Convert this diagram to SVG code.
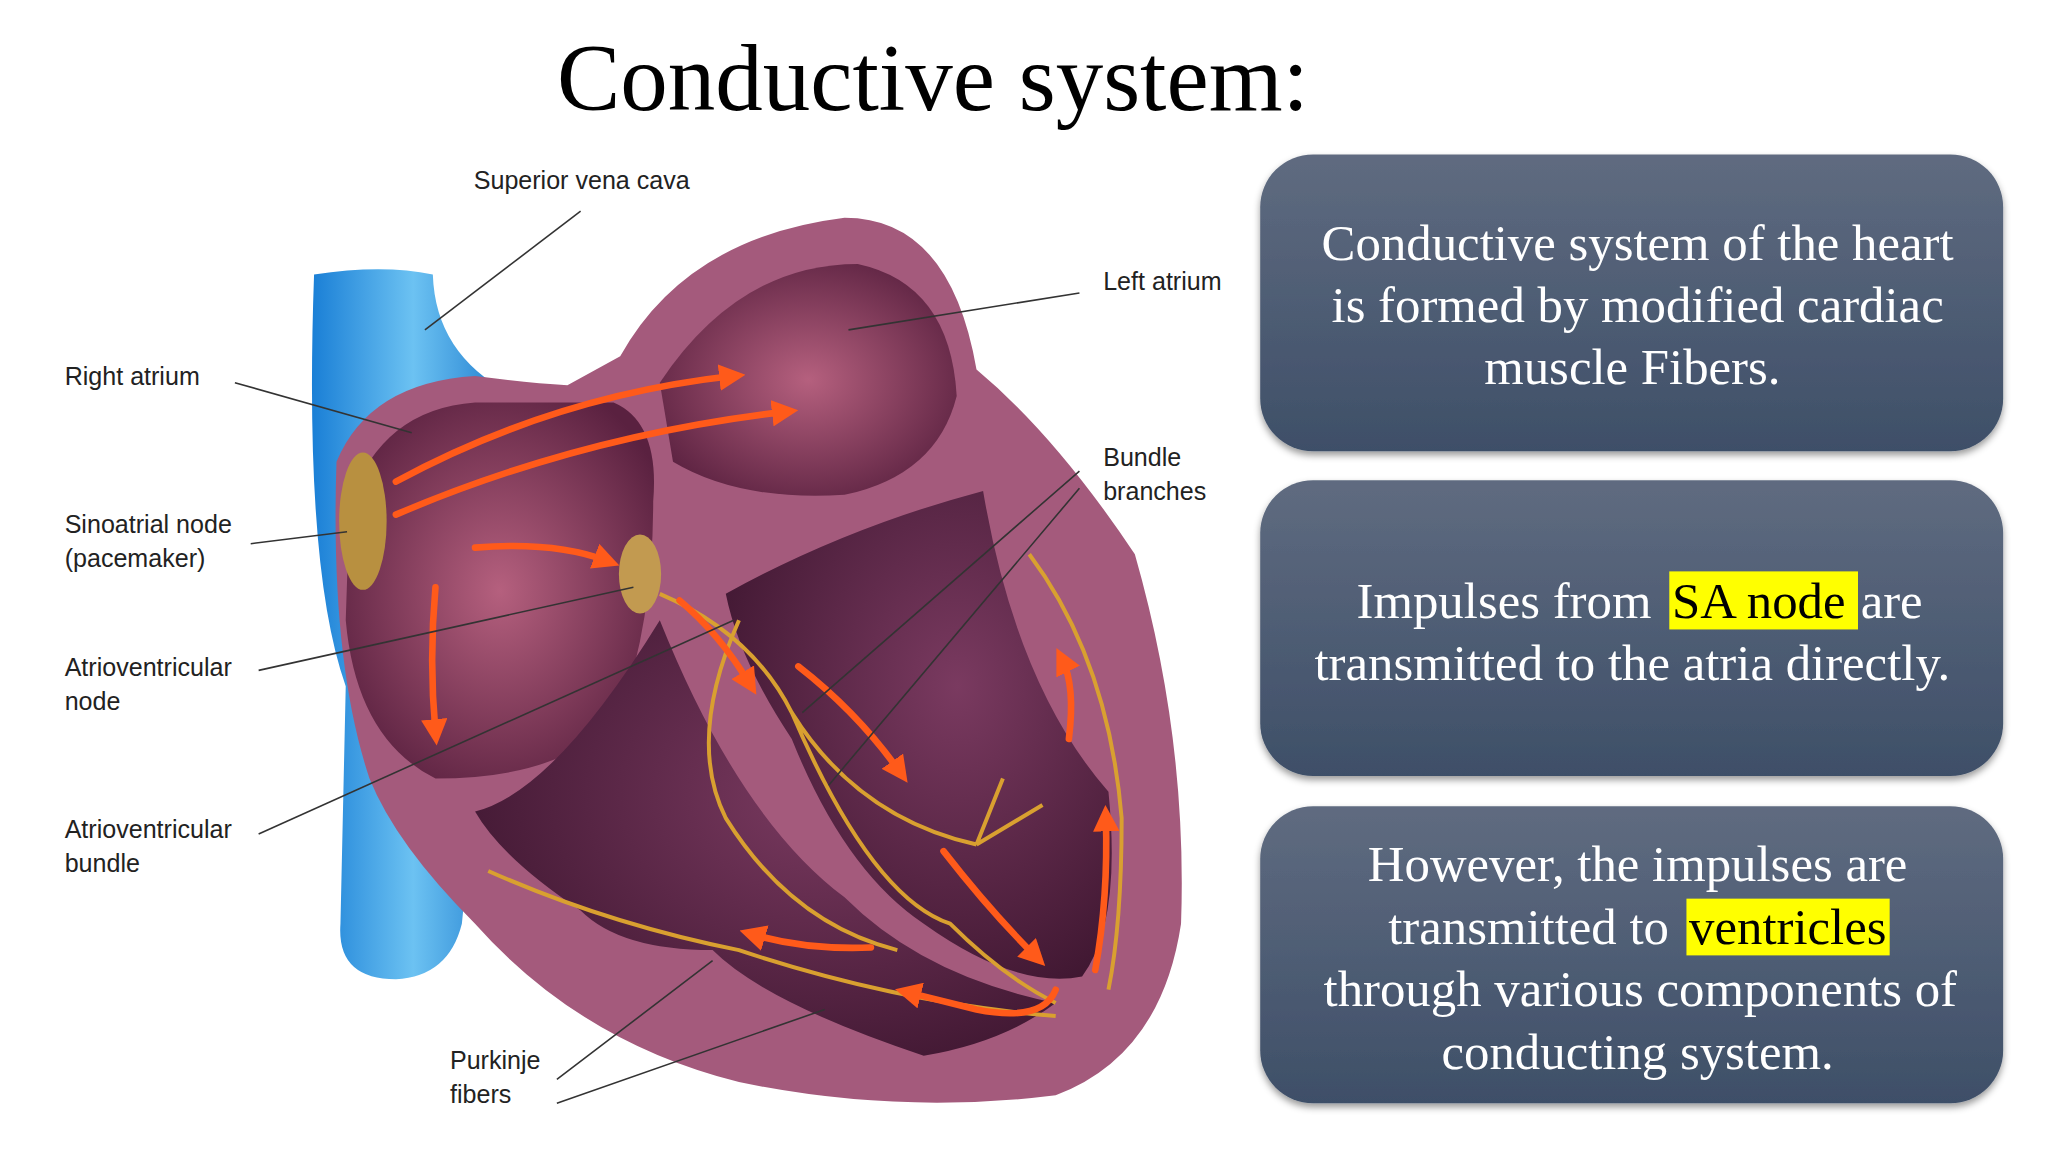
<svg xmlns="http://www.w3.org/2000/svg" width="2048" height="1152" viewBox="0 0 2048 1152">
<defs>
<linearGradient id="bg" x1="0" y1="0" x2="0" y2="1"><stop offset="0" stop-color="#5f6b80"/><stop offset="1" stop-color="#3e4f68"/></linearGradient>
<linearGradient id="vc" x1="0" y1="0" x2="1" y2="0"><stop offset="0" stop-color="#1a7fd6"/><stop offset="0.5" stop-color="#6cc2f2"/><stop offset="1" stop-color="#1a78cc"/></linearGradient>
<radialGradient id="ch" cx="0.5" cy="0.5" r="0.6"><stop offset="0" stop-color="#b5607e"/><stop offset="1" stop-color="#5a2140"/></radialGradient>
<radialGradient id="vt" cx="0.6" cy="0.4" r="0.7"><stop offset="0" stop-color="#7a3a60"/><stop offset="1" stop-color="#3e1630"/></radialGradient>
<filter id="sh" x="-5%" y="-5%" width="110%" height="115%"><feDropShadow dx="0" dy="3" stdDeviation="3" flood-color="#000" flood-opacity="0.4"/></filter>
<marker id="ah" viewBox="0 0 10 10" refX="5" refY="5" markerWidth="4" markerHeight="4" orient="auto"><path d="M0,0L10,5L0,10z" fill="#ff5a1a"/></marker>
</defs>
<style>
.t{font-family:"Liberation Serif",serif;fill:#fff;font-size:38.5px;text-anchor:middle}
.s{text-anchor:start}
.l{font-family:"Liberation Sans",Arial,sans-serif;font-size:19px;fill:#222}
.ld{stroke:#333;stroke-width:1.2;fill:none}
.ar{stroke:#ff5a1a;stroke-width:5;fill:none;stroke-linecap:round;marker-end:url(#ah)}
.fb{stroke:#d9a030;stroke-width:3;fill:none}
</style>
<rect width="2048" height="1152" fill="#fff"/>
<g transform="scale(1.3196)">
<text x="707" y="83" font-family="Liberation Serif,serif" font-size="72" text-anchor="middle" fill="#000">Conductive system:</text>
<g id="heart">
<path d="M238,208 Q290,200 328,208 Q330,270 390,300 L350,700 Q340,740 300,742 Q255,742 258,700 L262,520 Q230,430 238,208z" fill="url(#vc)"/>
<path d="M255,350 Q280,290 360,285 Q400,290 430,292 L470,270 Q520,180 640,165 Q720,165 740,280 Q800,330 860,420 Q900,560 895,700 Q880,800 800,830 Q680,845 560,820 Q440,790 360,700 Q300,640 280,590 Q250,500 255,350z" fill="#a45a7c"/>
<path d="M500,290 Q560,200 650,200 Q720,215 725,300 Q710,360 640,375 Q560,380 510,350z" fill="url(#ch)"/>
<path d="M265,380 Q290,310 360,305 L465,305 Q500,320 495,380 Q495,470 470,540 Q430,590 330,590 Q270,560 262,470z" fill="url(#ch)"/>
<path d="M550,450 Q640,400 745,372 Q770,520 840,600 Q850,700 820,740 Q770,750 700,700 Q640,660 600,560 Q560,500 550,450z" fill="url(#vt)"/>
<path d="M360,615 Q420,600 500,470 Q560,620 640,680 Q700,740 800,760 Q760,790 700,800 Q580,760 540,720 Q470,720 440,690 Q380,650 360,615z" fill="url(#vt)"/>
<ellipse cx="275" cy="395" rx="18" ry="52" fill="#b89040"/>
<ellipse cx="485" cy="435" rx="16" ry="30" fill="#c29a50"/>
<path class="fb" d="M500,450 Q570,480 600,540 Q650,620 740,640 M600,540 Q660,680 720,700 Q760,740 800,760 M560,470 Q520,560 550,620 Q600,700 680,720 M370,660 Q460,700 560,720 Q680,760 800,770 M780,420 Q840,500 850,620 Q850,700 840,750 M740,640 L760,590 M740,640 L790,610"/>
<path class="ar" d="M300,365 Q420,300 555,285"/>
<path class="ar" d="M300,390 Q440,330 595,312"/>
<path class="ar" d="M360,415 Q420,410 460,425"/>
<path class="ar" d="M330,445 Q325,500 330,555"/>
<path class="ar" d="M515,455 Q545,480 568,518"/>
<path class="ar" d="M605,505 Q650,540 682,585"/>
<path class="ar" d="M715,645 Q750,690 785,725"/>
<path class="ar" d="M810,560 Q815,520 805,500"/>
<path class="ar" d="M830,735 Q840,680 838,620"/>
<path class="ar" d="M660,718 Q610,720 570,708"/>
<path class="ar" d="M800,750 Q790,775 740,765 L688,752"/>
</g>
<g id="labels">
<text class="l" x="359" y="143">Superior vena cava</text>
<path class="ld" d="M440,160 L322,250"/>
<text class="l" x="836" y="220">Left atrium</text>
<path class="ld" d="M818,222 L643,250"/>
<text class="l" x="49" y="292">Right atrium</text>
<path class="ld" d="M178,290 L312,328"/>
<text class="l" x="49" y="404">Sinoatrial node</text><text class="l" x="49" y="430">(pacemaker)</text>
<path class="ld" d="M190,412 L263,403"/>
<text class="l" x="836" y="353">Bundle</text><text class="l" x="836" y="379">branches</text>
<path class="ld" d="M818,357 L608,540 M818,370 L628,595"/>
<text class="l" x="49" y="512">Atrioventricular</text><text class="l" x="49" y="538">node</text>
<path class="ld" d="M196,508 L480,445"/>
<text class="l" x="49" y="635">Atrioventricular</text><text class="l" x="49" y="661">bundle</text>
<path class="ld" d="M196,632 L556,470"/>
<text class="l" x="341" y="810">Purkinje</text><text class="l" x="341" y="836">fibers</text>
<path class="ld" d="M422,818 L540,728 M422,836 L625,765"/>
</g>
<g id="box1"><rect x="955" y="117" width="563" height="225" rx="40" fill="url(#bg)" filter="url(#sh)"/>
<text class="t" x="1241" y="197">Conductive system of the heart</text><text class="t" x="1241" y="244">is formed by modified cardiac</text><text class="t" x="1237" y="291">muscle Fibers.</text></g>
<g id="box2"><rect x="955" y="364" width="563" height="224" rx="40" fill="url(#bg)" filter="url(#sh)"/>
<rect x="1265" y="433" width="143" height="44" fill="#ffff00"/>
<text class="t s" x="1028" y="468">Impulses from</text><text class="t s" x="1267" y="468" fill="#000" style="fill:#000">SA node</text><text class="t s" x="1410" y="468">are</text>
<text class="t" x="1237" y="515">transmitted to the atria directly.</text></g>
<g id="box3"><rect x="955" y="611" width="563" height="225" rx="40" fill="url(#bg)" filter="url(#sh)"/>
<rect x="1278" y="681" width="154" height="43" fill="#ffff00"/>
<text class="t" x="1241" y="668">However, the impulses are</text>
<text class="t s" x="1052" y="715">transmitted to</text><text class="t s" x="1280" y="715" style="fill:#000">ventricles</text>
<text class="t" x="1243" y="762">through various components of</text><text class="t" x="1241" y="810">conducting system.</text></g>
</g>
</svg>
